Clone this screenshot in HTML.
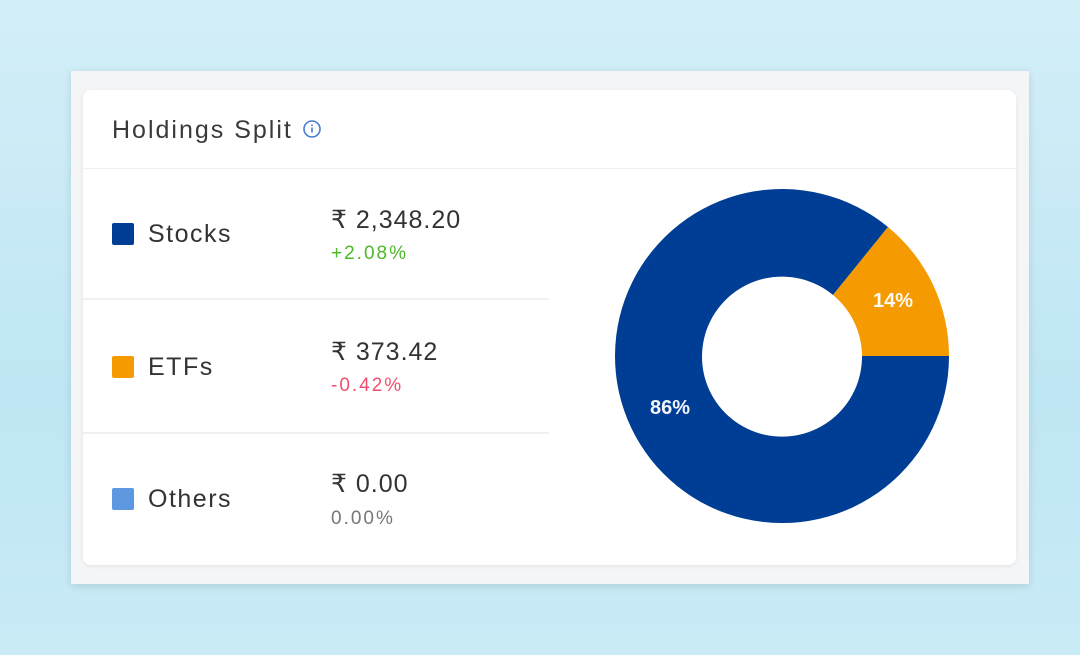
<!DOCTYPE html>
<html><head><meta charset="utf-8"><style>
body{margin:0;width:1080px;height:655px;overflow:hidden;background:linear-gradient(180deg,#d3eff8 0%,#bfe6f4 60%,#c9ebf6 100%);font-family:"Liberation Sans",sans-serif;position:relative}
.outer{position:absolute;left:71px;top:71px;width:958px;height:513px;background:#f3f5f7;box-shadow:0 2px 8px rgba(0,0,0,.12)}
.card{position:absolute;left:83px;top:90px;width:933px;height:475px;background:#fff;border-radius:8px;box-shadow:0 1px 4px rgba(0,0,0,.08)}
.title{position:absolute;left:29px;top:26px;font-size:25px;color:#3a3a3a;letter-spacing:2px}
.hdr{position:absolute;left:0;top:78px;width:933px;height:1px;background:#eef0f2}
.sep{position:absolute;left:0;width:466px;height:2px;background:#eef0f2}
.sq{position:absolute;left:29px;width:22px;height:22px;border-radius:2px}
.lab{position:absolute;left:65px;font-size:25px;color:#333;letter-spacing:1.5px}
.val{position:absolute;left:248px;font-size:25px;color:#333;letter-spacing:1px}
.pct{position:absolute;left:248px;font-size:19px;letter-spacing:2px}
</style></head><body>
<div class="outer"></div>
<div class="card">
<div class="title">Holdings Split <svg width="20" height="20" viewBox="0 0 20 20" style="vertical-align:-1px"><circle cx="10" cy="10" r="8" fill="none" stroke="#4a7bd0" stroke-width="1.6"/><rect x="9.2" y="8.5" width="1.6" height="5" fill="#4a7bd0"/><rect x="9.2" y="5.5" width="1.6" height="1.6" fill="#4a7bd0"/></svg></div>
<div class="hdr"></div>
<div class="sq" style="top:133px;background:#003d94"></div>
<div class="lab" style="top:130px">Stocks</div>
<div class="val" style="top:115px">₹ 2,348.20</div>
<div class="pct" style="top:153px;color:#4cb82a">+2.08%</div>
<div class="sep" style="top:208px"></div>
<div class="sq" style="top:266px;background:#f59a00"></div>
<div class="lab" style="top:263px">ETFs</div>
<div class="val" style="top:247px">₹ 373.42</div>
<div class="pct" style="top:285px;color:#f0506e">-0.42%</div>
<div class="sep" style="top:342px"></div>
<div class="sq" style="top:398px;background:#5e98e0"></div>
<div class="lab" style="top:395px">Others</div>
<div class="val" style="top:379px">₹ 0.00</div>
<div class="pct" style="top:418px;color:#777">0.00%</div>
</div>
<svg width="1080" height="655" style="position:absolute;left:0;top:0">
<path d="M949,356 A167,167 0 1,1 888,227 L833,295 A80,80 0 1,0 862,356 Z" fill="#003d94"/>
<path d="M949,356 A167,167 0 0,0 888,227 L833,295 A80,80 0 0,1 862,356 Z" fill="#f59a00"/>
<text x="893" y="307" font-size="20" fill="#fff" text-anchor="middle" font-family="Liberation Sans" font-weight="bold" opacity="0.95">14%</text>
<text x="670" y="414" font-size="20" fill="#fff" text-anchor="middle" font-family="Liberation Sans" font-weight="bold" opacity="0.95">86%</text>
</svg>
</body></html>
